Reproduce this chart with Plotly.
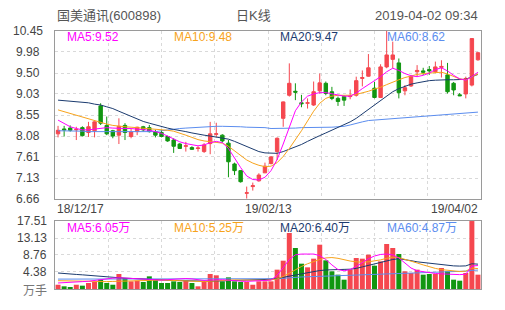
import plotly.graph_objects as go

# ---------------- data ----------------
start_label, mid_label, end_label = "18/12/17", "19/02/13", "19/04/02"
date_labels = [start_label, mid_label, end_label]

opens = [8.13, 8.24, 8.26, 8.22, 8.27, 8.16, 8.20, 8.76, 8.32, 8.20,
         8.10, 8.32, 8.07, 8.18, 8.29, 8.27, 8.18, 8.16, 8.07, 7.99,
         7.90, 7.85, 7.82, 7.80, 7.73, 7.91, 8.12, 8.10, 7.92, 7.45,
         7.30, 6.79, 6.94, 7.07, 7.25, 7.46, 7.73, 8.48, 9.00, 9.09,
         8.83, 8.82, 8.78, 9.10, 9.27, 9.08, 8.93, 8.97, 8.97, 9.00,
         9.38, 9.43, 9.16, 8.95, 9.64, 9.81, 9.73, 9.10, 9.21, 9.53,
         9.55, 9.58, 9.53, 9.63, 9.46, 9.27, 9.01, 9.03, 9.23, 9.80]
closes = [8.21, 8.22, 8.21, 8.23, 8.09, 8.29, 8.40, 8.37, 8.13, 8.08,
          8.30, 8.16, 8.17, 8.28, 8.22, 8.18, 8.10, 8.07, 7.97, 7.85,
          7.80, 7.86, 7.78, 7.81, 7.88, 8.13, 8.13, 7.97, 7.50, 7.30,
          7.05, 6.80, 6.96, 7.20, 7.40, 7.61, 8.03, 8.85, 9.27, 9.07,
          8.81, 8.83, 9.08, 9.28, 9.04, 8.93, 8.86, 8.89, 8.98, 9.33,
          9.40, 9.62, 8.95, 9.64, 9.91, 9.91, 9.06, 9.17, 9.42, 9.56,
          9.52, 9.55, 9.64, 9.65, 9.08, 9.12, 8.99, 9.38, 10.28, 9.96]
highs = [8.31, 8.31, 8.32, 8.29, 8.30, 8.40, 8.41, 8.82, 8.52, 8.22,
         8.48, 8.37, 8.25, 8.29, 8.31, 8.33, 8.22, 8.22, 8.09, 8.03,
         7.92, 7.95, 7.85, 7.85, 7.92, 8.40, 8.38, 8.12, 7.99, 7.48,
         7.31, 6.94, 7.03, 7.24, 7.48, 7.63, 8.05, 8.86, 9.72, 9.27,
         9.01, 8.93, 9.31, 9.49, 9.31, 9.19, 8.97, 9.00, 9.13, 9.42,
         9.56, 9.93, 9.30, 9.70, 10.45, 10.21, 9.83, 9.23, 9.46, 9.68,
         9.62, 9.66, 9.76, 9.79, 9.73, 9.30, 9.05, 9.42, 10.28, 9.98]
lows = [8.05, 8.07, 8.18, 7.99, 8.07, 8.06, 8.05, 8.33, 8.10, 8.03,
        7.90, 7.99, 8.03, 8.10, 8.18, 8.16, 8.05, 8.05, 7.95, 7.70,
        7.79, 7.73, 7.77, 7.73, 7.70, 7.67, 8.05, 7.93, 7.15, 7.20,
        7.03, 6.67, 6.85, 7.05, 7.25, 7.44, 7.54, 8.29, 8.97, 8.89,
        8.73, 8.70, 8.76, 9.04, 9.00, 8.89, 8.76, 8.76, 8.91, 8.97,
        9.20, 9.42, 8.93, 8.94, 9.61, 9.61, 8.93, 9.00, 9.19, 9.42,
        9.46, 9.46, 9.50, 9.40, 9.04, 9.00, 8.98, 8.93, 9.20, 9.78]

ma5 = [8.44, 8.36, 8.29, 8.25, 8.22, 8.22, 8.24, 8.26, 8.27, 8.26,
       8.25, 8.25, 8.25, 8.24, 8.23, 8.21, 8.18, 8.14, 8.08, 8.01,
       7.95, 7.91, 7.88, 7.86, 7.88, 7.93, 7.96, 7.93, 7.80, 7.58,
       7.37, 7.18, 7.10, 7.09, 7.15, 7.30, 7.55, 7.90, 8.30, 8.65,
       8.85, 8.98, 9.03, 9.06, 9.06, 9.03, 9.00, 8.98, 8.98, 9.05,
       9.15, 9.25, 9.33, 9.42, 9.53, 9.61, 9.56, 9.49, 9.44, 9.42,
       9.45, 9.50, 9.58, 9.62, 9.55, 9.45, 9.37, 9.34, 9.42, 9.52]
ma10 = [8.67, 8.63, 8.58, 8.54, 8.50, 8.46, 8.42, 8.38, 8.35, 8.32,
        8.30, 8.29, 8.28, 8.27, 8.25, 8.24, 8.23, 8.22, 8.21, 8.19,
        8.15, 8.10, 8.05, 8.00, 7.97, 7.95, 7.94, 7.92, 7.85, 7.75,
        7.63, 7.54, 7.47, 7.42, 7.39, 7.40, 7.48, 7.62, 7.80, 7.99,
        8.20, 8.42, 8.64, 8.82, 8.93, 8.98, 9.00, 9.00, 9.00, 9.02,
        9.05, 9.09, 9.14, 9.18, 9.24, 9.30, 9.35, 9.40, 9.44, 9.47,
        9.49, 9.50, 9.51, 9.52, 9.48, 9.42, 9.37, 9.35, 9.42, 9.48]
ma20 = [8.89, 8.88, 8.87, 8.86, 8.85, 8.83, 8.80, 8.78, 8.74, 8.70,
        8.64, 8.58, 8.53, 8.47, 8.41, 8.37, 8.33, 8.29, 8.26, 8.23,
        8.21, 8.18, 8.15, 8.12, 8.10, 8.08, 8.06, 8.04, 8.01, 7.96,
        7.90, 7.84, 7.78, 7.73, 7.70, 7.69, 7.69, 7.73, 7.78, 7.84,
        7.89, 7.96, 8.03, 8.09, 8.15, 8.21, 8.27, 8.33, 8.40, 8.48,
        8.58, 8.68, 8.78, 8.88, 8.98, 9.08, 9.15, 9.20, 9.25, 9.28,
        9.31, 9.33, 9.34, 9.35, 9.35, 9.35, 9.35, 9.36, 9.42, 9.47]
ma60 = [8.20, 8.20, 8.19, 8.19, 8.19, 8.18, 8.18, 8.18, 8.18, 8.17,
        8.17, 8.17, 8.17, 8.17, 8.17, 8.17, 8.18, 8.20, 8.22, 8.24,
        8.25, 8.26, 8.27, 8.28, 8.29, 8.30, 8.30, 8.30, 8.30, 8.29,
        8.29, 8.28, 8.28, 8.27, 8.27, 8.25, 8.25, 8.26, 8.26, 8.26,
        8.27, 8.27, 8.27, 8.28, 8.28, 8.28, 8.29, 8.30, 8.33, 8.37,
        8.40, 8.43, 8.44, 8.45, 8.46, 8.47, 8.48, 8.49, 8.50, 8.51,
        8.52, 8.53, 8.54, 8.55, 8.56, 8.57, 8.58, 8.59, 8.61, 8.62]

volume = [1.10, 0.69, 0.52, 1.10, 0.86, 1.54, 1.80, 2.40, 1.54, 1.10,
          3.86, 2.83, 1.97, 2.14, 1.80, 3.26, 2.40, 1.54, 1.54, 1.97,
          1.80, 2.14, 1.54, 0.69, 1.97, 3.86, 3.52, 1.97, 3.00, 1.97,
          1.80, 1.80, 1.10, 1.97, 1.97, 1.97, 4.98, 7.29, 14.42, 10.56,
          6.52, 5.58, 7.81, 11.41, 7.38, 4.55, 3.69, 2.40, 4.98, 7.98,
          7.81, 8.84, 6.01, 7.12, 11.59, 10.56, 9.01, 4.55, 4.12, 4.98,
          3.69, 3.86, 3.86, 5.41, 4.55, 2.40, 2.14, 4.12, 17.50, 3.69]
vma5 = [1.55, 1.60, 1.70, 1.80, 1.90, 2.00, 2.20, 2.50, 2.70, 2.80,
        2.90, 2.80, 2.70, 2.60, 2.50, 2.40, 2.30, 2.30, 2.40, 2.50,
        2.60, 2.70, 2.60, 2.40, 2.20, 2.30, 2.40, 2.40, 2.30, 2.10,
        2.00, 1.97, 2.00, 2.10, 2.20, 2.30, 3.50, 5.50, 7.60, 8.80,
        9.00, 9.00, 9.00, 8.60, 7.60, 6.20, 5.00, 4.70, 5.00, 5.80,
        6.80, 7.80, 8.50, 8.90, 9.00, 8.80, 8.00, 6.80, 5.40, 4.70,
        4.40, 4.20, 4.00, 3.90, 3.80, 3.70, 3.70, 3.80, 5.90, 6.05]
vma10 = [2.14, 2.10, 2.00, 1.95, 1.90, 1.85, 1.80, 1.85, 1.90, 1.95,
         2.00, 2.10, 2.15, 2.20, 2.25, 2.30, 2.35, 2.30, 2.25, 2.20,
         2.15, 2.05, 1.95, 1.90, 1.90, 2.00, 2.10, 2.20, 2.30, 2.35,
         2.30, 2.25, 2.20, 2.20, 2.25, 2.35, 2.60, 3.20, 4.10, 5.00,
         5.80, 6.50, 7.10, 7.60, 8.00, 8.10, 7.90, 7.50, 7.20, 7.00,
         6.90, 7.00, 7.20, 7.50, 7.90, 8.20, 8.10, 7.70, 7.20, 6.70,
         6.20, 5.70, 5.30, 5.00, 4.80, 4.60, 4.50, 4.60, 5.40, 5.25]
vma20 = [4.12, 3.95, 3.85, 3.75, 3.65, 3.50, 3.35, 3.20, 3.10, 3.00,
         2.90, 2.80, 2.70, 2.60, 2.50, 2.45, 2.40, 2.30, 2.25, 2.20,
         2.15, 2.10, 2.05, 2.00, 2.00, 2.00, 2.05, 2.10, 2.15, 2.20,
         2.25, 2.30, 2.30, 2.35, 2.40, 2.50, 2.70, 2.95, 3.30, 3.60,
         3.90, 4.20, 4.50, 4.75, 4.90, 5.00, 5.05, 5.05, 5.10, 5.30,
         5.70, 6.10, 6.50, 6.90, 7.30, 7.60, 7.80, 7.60, 7.30, 7.00,
         6.80, 6.60, 6.40, 6.20, 6.05, 5.95, 5.90, 5.95, 6.50, 6.40]
vma60 = [2.55, 2.55, 2.55, 2.55, 2.55, 2.55, 2.55, 2.55, 2.55, 2.55,
         2.55, 2.55, 2.55, 2.55, 2.55, 2.55, 2.55, 2.55, 2.55, 2.55,
         2.55, 2.55, 2.55, 2.55, 2.55, 2.55, 2.55, 2.55, 2.55, 2.55,
         2.55, 2.55, 2.55, 2.55, 2.55, 2.58, 2.65, 2.75, 2.90, 3.00,
         3.10, 3.15, 3.20, 3.30, 3.35, 3.40, 3.40, 3.45, 3.45, 3.50,
         3.55, 3.60, 3.70, 3.75, 3.85, 3.95, 4.05, 4.10, 4.15, 4.20,
         4.25, 4.30, 4.35, 4.40, 4.45, 4.50, 4.55, 4.60, 4.80, 4.87]

price_ticks = [10.45, 9.98, 9.50, 9.03, 8.55, 8.08, 7.61, 7.13, 6.66]
price_tick_text = ["10.45", "9.98", "9.50", "9.03", "8.55", "8.08", "7.61", "7.13", "6.66"]
vol_ticks = [17.51, 13.13, 8.76, 4.38, 0]
vol_tick_text = ["17.51", "13.13", "8.76", "4.38", "万手"]

title_left = "国美通讯(600898)"
title_mid = "日K线"
title_right = "2019-04-02 09:34"
ma_names = ["MA5", "MA10", "MA20", "MA60"]
price_ma_last = ["9.52", "9.48", "9.47", "8.62"]
vol_ma_last = ["6.05万", "5.25万", "6.40万", "4.87万"]

# ---------------- styling ----------------
W, H = 505, 310
L, R, T, B = 55, 24, 31, 21
PW, PH = W - L - R, H - T - B
RED, GREEN = "#f5474f", "#119611"
MA_COLORS = ["#ff00ff", "#f7a31b", "#1b3b6f", "#5b8def"]
GRID = "#d9d9d9"
FONT = "Liberation Sans, Arial, Noto Sans CJK SC, sans-serif"

def px(xp):
    return (xp - L) / PW

def py(yp):
    return (H - B - yp) / PH

n = len(opens)
xs = list(range(n))
main_dom = [py(199), 1.0]
vol_dom = [0.0, py(221)]
grid_x = [-0.5 + n * k / 8 for k in range(1, 8)]

fig = go.Figure()
fig.add_trace(go.Candlestick(
    x=xs, open=opens, high=highs, low=lows, close=closes,
    increasing=dict(line=dict(color=RED, width=1), fillcolor=RED),
    decreasing=dict(line=dict(color=GREEN, width=1), fillcolor=GREEN),
    whiskerwidth=0, xaxis="x", yaxis="y", showlegend=False, hoverinfo="skip"))
for series, col in zip([ma60, ma20, ma10, ma5], MA_COLORS[::-1]):
    fig.add_trace(go.Scatter(x=xs, y=series, mode="lines",
                             line=dict(color=col, width=1),
                             xaxis="x", yaxis="y", showlegend=False, hoverinfo="skip"))

bar_colors = [RED if c >= o else GREEN for o, c in zip(opens, closes)]
fig.add_trace(go.Bar(x=xs, y=volume, marker=dict(color=bar_colors, line=dict(width=0)),
                     width=0.82, xaxis="x2", yaxis="y2", showlegend=False, hoverinfo="skip"))
for series, col in zip([vma60, vma20, vma10, vma5], MA_COLORS[::-1]):
    fig.add_trace(go.Scatter(x=xs, y=series, mode="lines",
                             line=dict(color=col, width=1),
                             xaxis="x2", yaxis="y2", showlegend=False, hoverinfo="skip"))

axis_common = dict(showline=True, mirror=True, linecolor="#9a9a9a", linewidth=1,
                   showgrid=True, gridcolor=GRID, griddash="3px,3px", gridwidth=1,
                   zeroline=False, ticks="", fixedrange=True)

fig.update_layout(
    width=W, height=H, margin=dict(l=L, r=R, t=T, b=B),
    paper_bgcolor="white", plot_bgcolor="white",
    font=dict(family=FONT, size=12, color="#444"),
    boxgap=0.2,
    xaxis=dict(domain=[0, 1], range=[-0.5, n - 0.5], tickvals=grid_x,
               showticklabels=False, rangeslider=dict(visible=False),
               anchor="y", **axis_common),
    yaxis=dict(domain=main_dom, range=[price_ticks[-1], price_ticks[0]],
               tickvals=price_ticks, showticklabels=False, anchor="x", **axis_common),
    xaxis2=dict(domain=[0, 1], range=[-0.5, n - 0.5], tickvals=grid_x,
                showticklabels=False, anchor="y2", **axis_common),
    yaxis2=dict(domain=vol_dom, range=[0, vol_ticks[0]], tickvals=vol_ticks,
                showticklabels=False, anchor="x2", **axis_common),
    showlegend=False,
)

ann = []
# header row
ann.append(dict(text=title_left, x=px(55), y=py(16), xanchor="left"))
ann.append(dict(text=title_mid, x=px(253), y=py(16), xanchor="center"))
ann.append(dict(text=title_right, x=px(480), y=py(16), xanchor="right"))
for a in ann:
    a.update(xref="paper", yref="paper", yanchor="middle", showarrow=False,
             font=dict(size=13, color="#555", family=FONT))
# price tick labels (centred like the reference)
for v, t in zip(price_ticks, price_tick_text):
    ann.append(dict(text=t, x=px(28), y=v, xref="paper", yref="y", xanchor="center",
                    yanchor="middle", showarrow=False,
                    font=dict(size=12, color="#444", family=FONT)))
# volume tick labels (right aligned like the reference)
for v, t in zip(vol_ticks, vol_tick_text):
    ann.append(dict(text=t, x=px(49), y=v, xref="paper", yref="y2", xanchor="right",
                    yanchor="middle", yshift=-2 if v == 0 else 0, showarrow=False,
                    font=dict(size=12, color="#777" if v == 0 else "#444", family=FONT)))
# date labels
for t, xp, anc in zip(date_labels, [55, 268, 480], ["left", "center", "right"]):
    ann.append(dict(text=t, x=px(xp), y=py(209), xref="paper", yref="paper",
                    xanchor=anc, yanchor="middle", showarrow=False,
                    font=dict(size=12, color="#444", family=FONT)))
# MA legends
for i, (nm, col) in enumerate(zip(ma_names, MA_COLORS)):
    xl = 65 + i * 106.7
    ann.append(dict(text=f"{nm}:{price_ma_last[i]}", x=px(xl), y=py(37),
                    xref="paper", yref="paper", xanchor="left", yanchor="middle",
                    showarrow=False, font=dict(size=12, color=col, family=FONT)))
    ann.append(dict(text=f"{nm}:{vol_ma_last[i]}", x=px(xl), y=py(228),
                    xref="paper", yref="paper", xanchor="left", yanchor="middle",
                    showarrow=False, font=dict(size=12, color=col, family=FONT)))
fig.update_layout(annotations=ann)

fig.write_html("out.html", config={"displayModeBar": False})
